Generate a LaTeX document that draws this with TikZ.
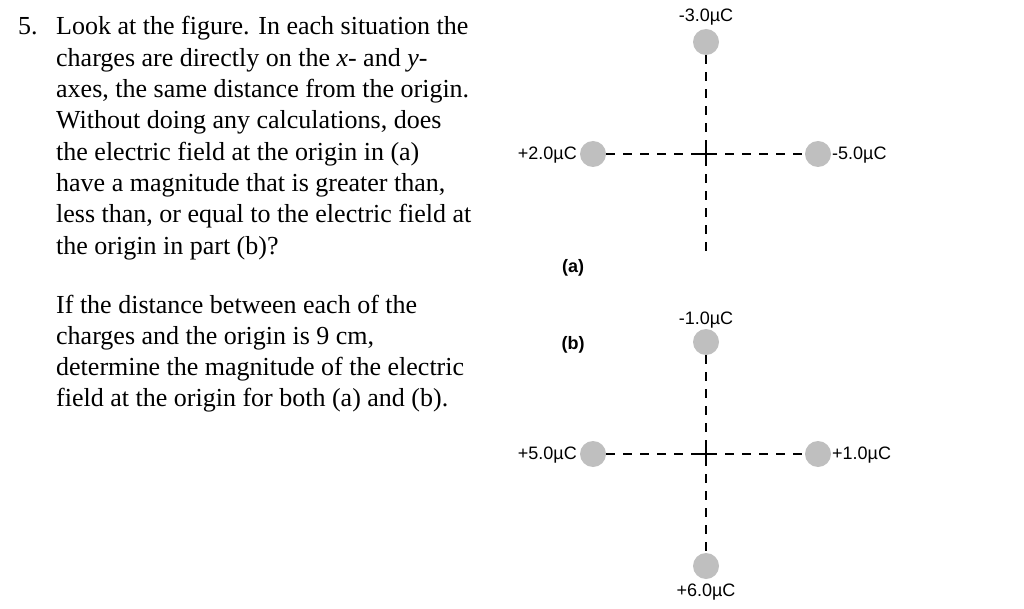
\documentclass[tikz,border=0pt]{standalone}
\usepackage{fontspec}
\setmainfont{Liberation Serif}
\newfontfamily\arialf{Liberation Sans}
\begin{document}
\begin{tikzpicture}[x=1pt,y=-1pt,
  txt/.style={anchor=base west,inner sep=0,font=\fontsize{26}{30}\selectfont},
  chg/.style={circle,fill=gray!50,minimum size=26,inner sep=0},
  lbl/.style={inner sep=0,font=\arialf\fontsize{18}{20}\selectfont},
  axis/.style={line width=2.4,dash pattern=on 9 off 8},
  cross/.style={line width=2.4}]
\useasboundingbox (0,0) rectangle (1024,609);
\node[txt] (n5) at (18,35) {5.};
\foreach \t [count=\i] in {{Look at the figure. In each situation the},
 {charges are directly on the \textit{x}- and \textit{y}-},
 {axes, the same distance from the origin.},
 {Without doing any calculations, does},
 {the electric field at the origin in (a)},
 {have a magnitude that is greater than,},
 {less than, or equal to the electric field at},
 {the origin in part (b)?}}
  \node[txt] (l\i) at (56,{35+(\i-1)*31.3}) {\t};
\foreach \t [count=\i] in {{If the distance between each of the},
 {charges and the origin is 9 cm,},
 {determine the magnitude of the electric},
 {field at the origin for both (a) and (b).}}
  \node[txt] (m\i) at (56,{313+(\i-1)*31.3}) {\t};
% (a)
\coordinate (oa) at (706,154);
\node[chg] (at) at (706,42) {};
\node[chg] (al) at (593,154) {};
\node[chg] (ar) at (818,154) {};
\coordinate (ab) at (706,252);
\draw[axis] (al) -- (ar);
\draw[axis] (at) -- (ab);
\draw[cross] ([xshift=-8]oa) -- ([xshift=8]oa) ([yshift=-8]oa) -- ([yshift=8]oa);
\node[lbl] (atl) at (706,17) {-3.0\textmu C};
\node[lbl,anchor=east] (all) at (577,155) {+2.0\textmu C};
\node[lbl,anchor=west] (arl) at (832,155) {-5.0\textmu C};
\node[lbl,font=\arialf\bfseries\fontsize{18}{20}\selectfont] (la) at (573,268) {(a)};
% (b)
\coordinate (ob) at (706,454);
\node[chg] (bt) at (706,342) {};
\node[chg] (bl) at (593,454) {};
\node[chg] (br) at (818,454) {};
\node[chg] (bb) at (706,566) {};
\draw[axis] (bl) -- (br);
\draw[axis] (bt) -- (bb);
\draw[cross] ([xshift=-8]ob) -- ([xshift=8]ob) ([yshift=-8]ob) -- ([yshift=8]ob);
\node[lbl] (btl) at (706,320) {-1.0\textmu C};
\node[lbl,anchor=east] (bll) at (577,455) {+5.0\textmu C};
\node[lbl,anchor=west] (brl) at (832,455) {+1.0\textmu C};
\node[lbl] (bbl) at (706,592) {+6.0\textmu C};
\node[lbl,font=\arialf\bfseries\fontsize{18}{20}\selectfont] (lb) at (573,345) {(b)};
\end{tikzpicture}
\end{document}
